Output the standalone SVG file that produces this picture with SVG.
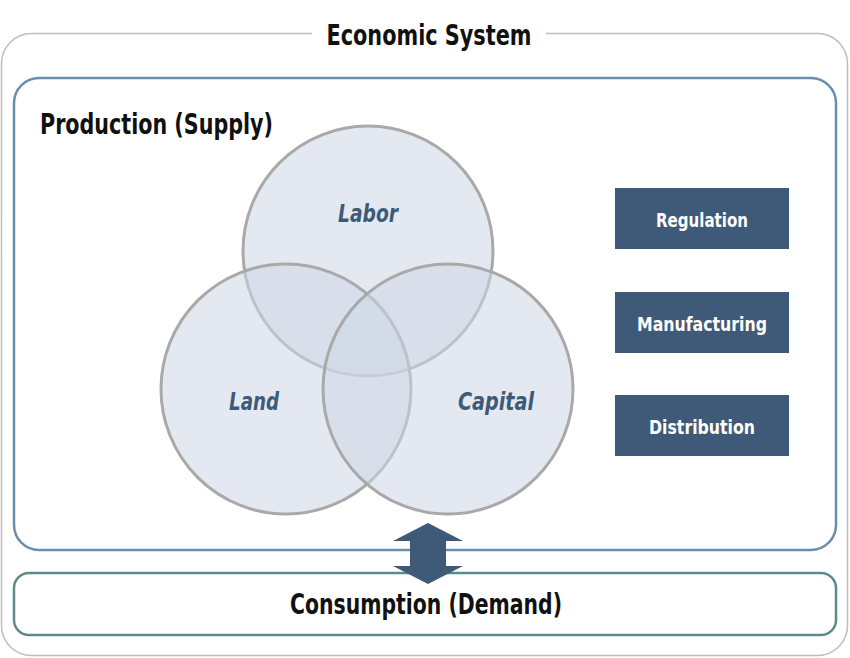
<svg xmlns="http://www.w3.org/2000/svg" width="850" height="658" viewBox="0 0 850 658">
<style>
.t{font-family:"DejaVu Sans",sans-serif;font-stretch:condensed;font-weight:bold;fill:#111}
.c{fill:#cdd7e5;fill-opacity:0.55;stroke:#a9a9a9;stroke-width:3}
.ci{font-family:"DejaVu Sans",sans-serif;font-stretch:condensed;font-style:italic;font-weight:bold;font-size:24px;fill:#3e5a78;text-anchor:middle}
.b{fill:#3e5a78}
.bt{font-family:"DejaVu Sans",sans-serif;font-stretch:condensed;font-weight:bold;font-size:20px;fill:#fff;text-anchor:middle}
</style>
<rect width="850" height="658" fill="#fff"/>
<g id="economic-system">
<rect x="1.5" y="33.5" width="846" height="622" rx="30" fill="none" stroke="#bdbdbd" stroke-width="1.5"/>
<rect x="312" y="20" width="234" height="30" fill="#fff"/>
<text class="t" x="429" y="45" font-size="28" text-anchor="middle" textLength="205" lengthAdjust="spacingAndGlyphs">Economic System</text>
</g>
<g id="production">
<rect x="14" y="78" width="822" height="472" rx="25" fill="#fff" stroke="#6a8fae" stroke-width="2.5"/>
<text class="t" x="40" y="134" font-size="28" textLength="233" lengthAdjust="spacingAndGlyphs">Production (Supply)</text>
</g>
<g id="consumption">
<rect x="14" y="573" width="822" height="62" rx="15" fill="#fff" stroke="#5f8a8b" stroke-width="2.5"/>
<text class="t" x="426" y="614" font-size="28" text-anchor="middle" textLength="272" lengthAdjust="spacingAndGlyphs">Consumption (Demand)</text>
</g>
<g id="labor"><circle class="c" cx="368" cy="251" r="125"/></g>
<g id="land"><circle class="c" cx="286" cy="389" r="125"/></g>
<g id="capital"><circle class="c" cx="448" cy="389" r="125"/></g>
<text class="ci" x="368" y="222" textLength="60" lengthAdjust="spacingAndGlyphs">Labor</text>
<text class="ci" x="254" y="410" textLength="50" lengthAdjust="spacingAndGlyphs">Land</text>
<text class="ci" x="496" y="410" textLength="76" lengthAdjust="spacingAndGlyphs">Capital</text>
<g id="regulation"><rect class="b" x="615" y="188" width="174" height="61"/><text class="bt" x="702" y="227" textLength="92" lengthAdjust="spacingAndGlyphs">Regulation</text></g>
<g id="manufacturing"><rect class="b" x="615" y="292" width="174" height="61"/><text class="bt" x="702" y="331" textLength="130" lengthAdjust="spacingAndGlyphs">Manufacturing</text></g>
<g id="distribution"><rect class="b" x="615" y="395" width="174" height="61"/><text class="bt" x="702" y="434" textLength="106" lengthAdjust="spacingAndGlyphs">Distribution</text></g>
<g id="connectors">
<polygon points="428,523 463,541 446,541 446,566 463,566 428,584 393,566 410,566 410,541 393,541" fill="#3e5a78"/>
</g>
</svg>
